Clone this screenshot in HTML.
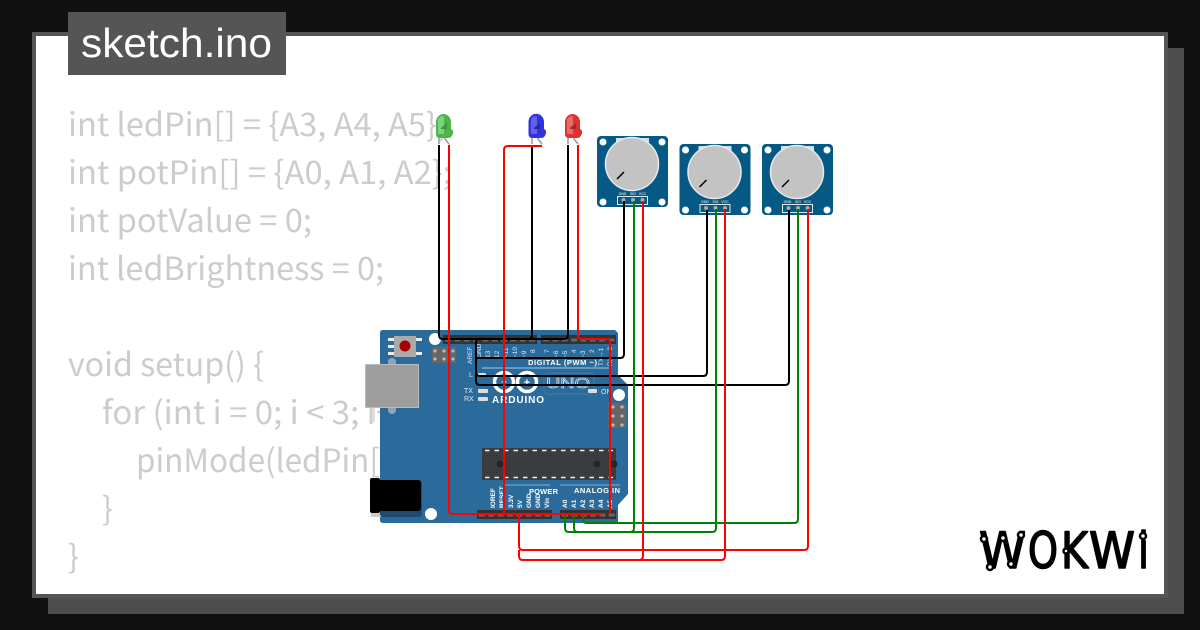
<!DOCTYPE html>
<html><head><meta charset="utf-8"><style>
html,body{margin:0;padding:0;background:#111;width:1200px;height:630px;overflow:hidden}
svg{display:block}
.c{font-family:"Noto Sans CJK JP","Liberation Sans",sans-serif;font-size:32px;fill:#ccc}
.b{font-family:"Liberation Sans",sans-serif;font-weight:bold;fill:#fff}
.w{fill:none;stroke-width:2}
</style></head><body>
<svg width="1200" height="630" viewBox="0 0 1200 630" xmlns="http://www.w3.org/2000/svg">
<rect width="1200" height="630" fill="#111"/>
<rect x="48" y="48" width="1136" height="566" fill="#4d4d4d"/>
<rect x="34" y="34" width="1132" height="562" fill="#fff" stroke="#555" stroke-width="4"/>
<rect x="68" y="12" width="218" height="63" fill="#555"/>
<text x="81" y="57" font-family="Liberation Sans" font-size="41" fill="#fff" textLength="191" lengthAdjust="spacingAndGlyphs">sketch.ino</text>

<g class="c">
<text x="68" y="136" textLength="378" lengthAdjust="spacingAndGlyphs">int ledPin[] = {A3, A4, A5};</text>
<text x="68" y="184" textLength="384" lengthAdjust="spacingAndGlyphs">int potPin[] = {A0, A1, A2};</text>
<text x="68" y="232" textLength="244" lengthAdjust="spacingAndGlyphs">int potValue = 0;</text>
<text x="68" y="280" textLength="316" lengthAdjust="spacingAndGlyphs">int ledBrightness = 0;</text>
<text x="68" y="376" textLength="196" lengthAdjust="spacingAndGlyphs">void setup() {</text>
<text x="102" y="424" textLength="340" lengthAdjust="spacingAndGlyphs">for (int i = 0; i &lt; 3; i++) {</text>
<text x="136" y="472" textLength="425" lengthAdjust="spacingAndGlyphs">pinMode(ledPin[i], OUTPUT);</text>
<text x="102" y="520">}</text>
<text x="68" y="568">}</text>
</g>

<!-- WOKWI -->
<g font-family="DejaVu Sans" fill="#000" stroke="#000" stroke-width="1.600" stroke-linejoin="round" font-size="50">
<text x="979" y="568" textLength="47" lengthAdjust="spacingAndGlyphs">W</text>
<text x="1028" y="568" textLength="30" lengthAdjust="spacingAndGlyphs">O</text>
<text x="1061" y="568" textLength="27" lengthAdjust="spacingAndGlyphs">K</text>
<text x="1089" y="568" textLength="46" lengthAdjust="spacingAndGlyphs">W</text>
<text x="1138" y="568" textLength="11" lengthAdjust="spacingAndGlyphs">i</text>
</g>
<g fill="#fff" stroke="#000" stroke-width="2.500">
<circle cx="984" cy="539" r="3"/><circle cx="1003" cy="538" r="3"/><circle cx="1021" cy="535" r="3"/><circle cx="990" cy="567" r="3"/><circle cx="1011" cy="564" r="3"/><circle cx="1066" cy="551" r="2.500"/><circle cx="1143" cy="536" r="3"/>
</g>

<!-- Arduino board -->
<path d="M383 330H615L618 333V375L628 385V494L618 505V523H383Q380 523 380 520V333Q380 330 383 330Z" fill="#2b6b9b"/>
<rect x="371" y="508" width="10" height="9" fill="#ccc"/>
<rect x="380" y="480" width="42" height="37" rx="3" fill="#1f4c6e"/>
<rect x="370" y="478" width="10" height="35" rx="2" fill="#000"/>
<rect x="378" y="480" width="43" height="31" rx="3" fill="#000"/>
<circle cx="435" cy="339" r="6" fill="#fff"/><circle cx="619" cy="395" r="6" fill="#fff"/><circle cx="431" cy="514" r="6" fill="#fff"/>
<!-- USB -->
<rect x="388" y="358" width="8" height="56" rx="4" fill="#8fa4b5"/>
<rect x="365.500" y="364.500" width="53" height="43" fill="#9e9e9e" stroke="#bbb"/>
<rect x="372" y="408" width="3" height="14" fill="#ddd"/>
<!-- Reset -->
<rect x="388" y="338" width="6" height="3" fill="#eee"/><rect x="388" y="345" width="6" height="3" fill="#eee"/><rect x="388" y="352" width="6" height="3" fill="#eee"/>
<rect x="416" y="338" width="6" height="3" fill="#eee"/><rect x="416" y="352" width="6" height="3" fill="#eee"/>
<rect x="394" y="336" width="22" height="21" fill="#aaa"/>
<circle cx="405" cy="346" r="5.500" fill="#a00"/>
<!-- ICSP -->
<rect x="432" y="347" width="24" height="16" fill="#666"/>
<g fill="#bbb"><circle cx="435" cy="351" r="1.600"/><circle cx="444" cy="351" r="1.600"/><circle cx="453" cy="351" r="1.600"/><circle cx="435" cy="359" r="1.600"/><circle cx="444" cy="359" r="1.600"/><circle cx="453" cy="359" r="1.600"/></g>
<rect x="608" y="403" width="18" height="25" fill="#666"/>
<g fill="#bbb"><circle cx="613" cy="407" r="1.600"/><circle cx="622" cy="407" r="1.600"/><circle cx="613" cy="416" r="1.600"/><circle cx="622" cy="416" r="1.600"/><circle cx="613" cy="425" r="1.600"/><circle cx="622" cy="425" r="1.600"/></g>
<!-- Headers -->
<g fill="#333"><rect x="443" y="335" width="94" height="9"/><rect x="541" y="335" width="75" height="9"/><rect x="477" y="510" width="75" height="9"/><rect x="560" y="510" width="56" height="9"/></g>
<g stroke="#666" stroke-width="3" stroke-dasharray="6 3.350" fill="none"><path d="M445 340H536M543 340H615M479 515H551M562 515H615"/></g>
<!-- Chip -->
<rect x="482" y="448" width="134" height="32" rx="1" fill="#3a3c3f"/>
<path d="M485 450.500H615M485 477.500H615" stroke="#eee" stroke-width="1.500" stroke-dasharray="4.500 5"/>
<circle cx="500" cy="464" r="3.500" fill="#232527"/><circle cx="597" cy="464" r="3.500" fill="#232527"/><circle cx="614" cy="464" r="3.500" fill="#232527"/>
<!-- Logo -->
<g fill="none" stroke="#fff" stroke-width="3.500"><circle cx="504" cy="382" r="9.500"/><circle cx="527" cy="382" r="9.500"/></g>
<text x="504" y="385" text-anchor="middle" class="b" font-size="9">−</text>
<text x="527" y="386" text-anchor="middle" class="b" font-size="11">+</text>
<text x="546" y="388" font-family="Liberation Sans" font-size="15" fill="none" stroke="#e4edf3" stroke-width=".6" textLength="44" lengthAdjust="spacingAndGlyphs">UNO</text>
<rect x="544" y="373" width="50" height="21" rx="4" fill="none" stroke="#3d7fae" stroke-width="1"/>
<text x="492" y="403" class="b" font-size="10" textLength="52" lengthAdjust="spacing">ARDUINO</text>
<text x="528" y="365" class="b" font-size="7.500" textLength="69" lengthAdjust="spacing">DIGITAL (PWM ~)</text>
<path d="M482 368H610" stroke="#a9c4d8" stroke-width="1"/>
<path d="M505 485H550M560 485H620" stroke="#a9c4d8" stroke-width=".8"/>
<text x="529" y="494" class="b" font-size="7.500" textLength="29" lengthAdjust="spacing">POWER</text>
<text x="574" y="493" class="b" font-size="7.500" textLength="46" lengthAdjust="spacing">ANALOG IN</text>
<g font-family="Liberation Sans" font-size="7" fill="#dfe9f0">
<text x="464" y="393">TX</text><text x="464" y="401">RX</text><text x="469" y="377">L</text><text x="601" y="394">ON</text>
</g>
<g fill="#ddd"><rect x="478" y="389" width="10" height="4" rx="1"/><rect x="478" y="397" width="10" height="4" rx="1"/><rect x="478" y="373" width="8" height="4" rx="1"/><rect x="588" y="389" width="9" height="4" rx="1"/></g>
<g font-family="Liberation Sans" font-size="6.500" fill="#e4edf3">
<text transform="translate(472,364) rotate(-90)">AREF</text>
<text transform="translate(481,358) rotate(-90)">GND</text>
<text transform="translate(490,358) rotate(-90)">13</text>
<text transform="translate(499,358) rotate(-90)">12</text>
<text transform="translate(508,358) rotate(-90)">~11</text>
<text transform="translate(517,358) rotate(-90)">~10</text>
<text transform="translate(526,358) rotate(-90)">~9</text>
<text transform="translate(535,353) rotate(-90)">8</text>
<text transform="translate(549,353) rotate(-90)">7</text>
<text transform="translate(558,358) rotate(-90)">~6</text>
<text transform="translate(567,358) rotate(-90)">~5</text>
<text transform="translate(576,353) rotate(-90)">4</text>
<text transform="translate(585,358) rotate(-90)">~3</text>
<text transform="translate(594,353) rotate(-90)">2</text>
<text transform="translate(603,366) rotate(-90)">TX→1</text>
<text transform="translate(612,366) rotate(-90)">RX←0</text>
</g>
<g class="b" font-size="6.500">
<text transform="translate(495,508) rotate(-90)">IOREF</text>
<text transform="translate(504,508) rotate(-90)">RESET</text>
<text transform="translate(513,508) rotate(-90)">3.3V</text>
<text transform="translate(522,508) rotate(-90)">5V</text>
<text transform="translate(531,508) rotate(-90)">GND</text>
<text transform="translate(540,508) rotate(-90)">GND</text>
<text transform="translate(549,508) rotate(-90)">Vin</text>
<text transform="translate(567,508) rotate(-90)">A0</text>
<text transform="translate(576,508) rotate(-90)">A1</text>
<text transform="translate(585,508) rotate(-90)">A2</text>
<text transform="translate(594,508) rotate(-90)">A3</text>
<text transform="translate(603,508) rotate(-90)">A4</text>
<text transform="translate(612,508) rotate(-90)">A5</text>
</g>

<!-- Pots -->
<defs>
<g id="pot">
<rect x="597" y="136" width="71" height="71" rx="4" fill="#045a85"/>
<g fill="#fff"><circle cx="603" cy="142" r="3.500"/><circle cx="662" cy="142" r="3.500"/><circle cx="603" cy="202" r="3.500"/><circle cx="662" cy="202" r="3.500"/></g>
<rect x="616" y="138" width="33" height="12" fill="#cfdfe9"/>
<circle cx="632" cy="164" r="26.500" fill="#c3c3c3" stroke="#e8e8e8" stroke-width="1.500"/>
<path d="M617 179L624 172" stroke="#000" stroke-width="1.500"/>
<rect x="617.500" y="196.500" width="30" height="8" fill="none" stroke="#dfe9f0" stroke-width="1"/>
<g fill="#aaa"><circle cx="623.500" cy="200" r="2"/><circle cx="633" cy="200" r="2"/><circle cx="642.500" cy="200" r="2"/></g>
<g font-family="Liberation Sans" font-size="3.500" fill="#fff" text-anchor="middle"><text x="622.500" y="195">GND</text><text x="633" y="195">SIG</text><text x="642.500" y="195">VCC</text></g>
</g>
</defs>
<use href="#pot"/>
<use href="#pot" x="82.500" y="8"/>
<use href="#pot" x="165" y="8"/>

<!-- LEDs -->
<g>
<path d="M439 136V144M445 136V139L449 144M532 136V144M538 136V139L542 144M568 136V144M574 136V139L578 144" stroke="#999" stroke-width="1.500" fill="none"/>
<path d="M436 122A7.500 8 0 0 1 451 122V129Q453.500 130 453 133Q452 138 448 138H440Q436 138 436 134Z" fill="#4bb54b"/>
<path d="M438 119Q440 116 444 116V134H438Z" fill="#7fd07f"/>
<path d="M441 128L447 123V129H441Z" fill="#3c943c"/>
<path d="M528.500 122A7.500 8 0 0 1 544 122V129Q546.500 130 546 133Q545 138 541 138H532.500Q528.500 138 528.500 134Z" fill="#3232dc"/>
<path d="M531 119Q533 116 537 116V134H531Z" fill="#6060ea"/>
<path d="M534 128L540 123V129H534Z" fill="#2626a8"/>
<path d="M565 122A7.500 8 0 0 1 580 122V129Q582.500 130 582 133Q581 138 577 138H569Q565 138 565 134Z" fill="#dc3232"/>
<path d="M567 119Q569 116 573 116V134H567Z" fill="#ea6a6a"/>
<path d="M570 128L576 123V129H570Z" fill="#a82626"/>
</g>

<!-- Wires -->
<g class="w" stroke="#000">
<path d="M439 145V335Q439 339 443 339H528Q532 339 532 335V146"/>
<path d="M568 145V335Q568 339 564 339H480Q476 339 476 343V372Q476 376 480 376H703Q707 376 707 372V210"/>
<path d="M476 372V381Q476 385 480 385H785Q789 385 789 381V210"/>
<path d="M476 358H620Q624 358 624 354V201"/>
</g>
<g class="w" stroke="#008000">
<path d="M565 514V528Q565 532 569 532H630Q634 532 634 528V201"/>
<path d="M574 514V528Q574 532 578 532H712Q716 532 716 528V209"/>
<path d="M583 514V519Q583 523 587 523H794Q798 523 798 519V209"/>
</g>
<g class="w" stroke="#f00">
<path d="M449 145V510Q449 514 453 514H602"/>
<path d="M542 146H508Q504 146 504 150V514"/>
<path d="M578 145V335Q578 339 582 339H606Q610 339 610 343V514"/>
<path d="M519 514V546Q519 550 523 550H804Q808 550 808 546V209"/>
<path d="M519 550V556Q519 560 523 560H721Q725 560 725 556V209"/>
<path d="M643 201V556Q643 560 639 560"/>
</g>
</svg>
</body></html>
